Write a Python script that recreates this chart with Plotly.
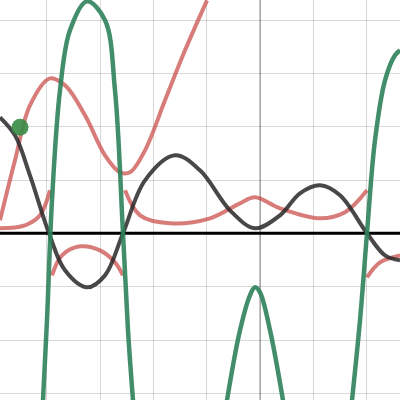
import plotly.graph_objects as go

# black curve
black_x = [-4.875, -4.594, -4.313, -3.956, -3.656, -3.244, -2.906, -2.569, -2.156, -1.594,
           -1.125, -0.563, -0.094, 0.375, 0.75, 1.125, 1.5, 2.006, 2.344, 2.625]
black_y = [2.175, 1.838, 1.088, 0, -0.694, -1.013, -0.788, 0, 0.994, 1.463,
           1.181, 0.431, 0.094, 0.338, 0.75, 0.9, 0.713, 0, -0.413, -0.506]

# green curve pieces
g1_x = [-4.069, -3.994, -3.9, -3.75, -3.563, -3.244, -2.906, -2.719, -2.569, -2.475, -2.381]
g1_y = [-3.131, -1.631, 0.619, 2.681, 3.806, 4.35, 3.994, 2.681, 0, -1.819, -3.131]
g2_x = [-0.619, -0.375, -0.188, -0.094, 0, 0.188, 0.431]
g2_y = [-3.131, -1.819, -1.163, -1.013, -1.106, -1.819, -3.131]
g3_x = [1.725, 1.875, 2.006, 2.156, 2.344, 2.531, 2.625]
g3_y = [-3.131, -1.631, 0, 1.744, 2.869, 3.338, 3.431]

# red curve pieces
ra_x = [-4.875, -4.594, -4.313, -3.938, -3.656, -3.281, -2.906, -2.625, -2.438, -2.156, -1.781, -1.406, -0.994]
ra_y = [0.244, 1.369, 2.4, 2.906, 2.775, 2.213, 1.463, 1.144, 1.144, 1.556, 2.494, 3.431, 4.369]
rb_x = [-4.875, -4.406, -4.125, -3.938]
rb_y = [0.094, 0.15, 0.338, 0.806]
rc_x = [-3.9, -3.713, -3.375, -3.0, -2.719, -2.569]
rc_y = [-0.788, -0.413, -0.244, -0.319, -0.544, -0.788]
rd_x = [-2.531, -2.25, -1.688, -0.938, -0.375, -0.094, 0.375, 1.125, 1.594, 2.006]
rd_y = [0.806, 0.338, 0.188, 0.281, 0.563, 0.675, 0.469, 0.281, 0.394, 0.806]
re_x = [2.006, 2.25, 2.625]
re_y = [-0.825, -0.544, -0.413]

dot_x = [-4.5]
dot_y = [1.988]

RED = 'rgba(199,68,64,0.7)'
GREEN = 'rgba(45,130,90,0.9)'

fig = go.Figure()
fig.add_trace(go.Scatter(x=[-6, 4], y=[0, 0], mode='lines', line=dict(color='black', width=3)))
for xs, ys in [(ra_x, ra_y), (rb_x, rb_y), (rc_x, rc_y), (rd_x, rd_y), (re_x, re_y)]:
    fig.add_trace(go.Scatter(x=xs, y=ys, mode='lines', line=dict(color=RED, width=4, shape='spline')))
fig.add_trace(go.Scatter(x=black_x, y=black_y, mode='lines',
                         line=dict(color='rgba(40,40,40,0.85)', width=4, shape='spline')))
for xs, ys in [(g1_x, g1_y), (g2_x, g2_y), (g3_x, g3_y)]:
    fig.add_trace(go.Scatter(x=xs, y=ys, mode='lines', line=dict(color=GREEN, width=4.5, shape='spline')))
fig.add_trace(go.Scatter(x=dot_x, y=dot_y, mode='markers',
                         marker=dict(color='rgba(56,140,70,0.9)', size=17)))

axis = dict(dtick=1, gridcolor='rgba(0,0,0,0.15)', gridwidth=1, showticklabels=False,
            zeroline=False, showline=False, fixedrange=True)
fig.update_layout(
    width=400, height=400, margin=dict(l=0, r=0, t=0, b=0),
    plot_bgcolor='white', paper_bgcolor='white', showlegend=False,
    xaxis=dict(axis, range=[-4.875, 2.625]),
    yaxis=dict(axis, range=[-3.125, 4.375], zeroline=False),
    shapes=[dict(type='line', x0=0, x1=0, y0=-4, y1=5, xref='x', yref='y',
                 line=dict(color='rgba(0,0,0,0.45)', width=1), layer='below')],
)
fig.write_html("out.html", config={'displayModeBar': False},
               post_script="document.body.style.margin='0';")
